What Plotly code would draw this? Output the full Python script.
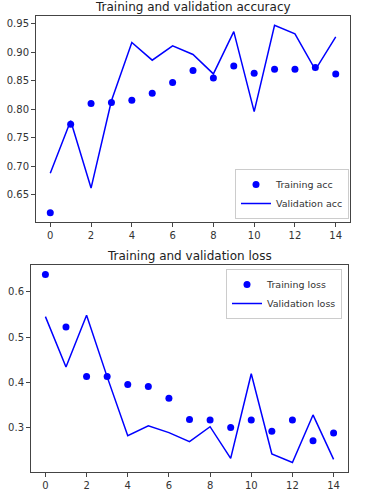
import plotly.graph_objects as go

epochs = list(range(15))
train_acc = [0.619, 0.774, 0.810, 0.812, 0.816, 0.828, 0.847, 0.868, 0.855, 0.876, 0.863, 0.870, 0.870, 0.873, 0.862]
val_acc = [0.688, 0.780, 0.662, 0.815, 0.917, 0.886, 0.911, 0.896, 0.862, 0.936, 0.796, 0.947, 0.932, 0.869, 0.927]
train_loss = [0.638, 0.522, 0.413, 0.413, 0.395, 0.391, 0.365, 0.318, 0.317, 0.300, 0.317, 0.292, 0.317, 0.271, 0.288]
val_loss = [0.545, 0.434, 0.548, 0.412, 0.282, 0.304, 0.289, 0.269, 0.302, 0.232, 0.419, 0.242, 0.223, 0.328, 0.230]

acc_ticks = [0.65, 0.70, 0.75, 0.80, 0.85, 0.90, 0.95]
loss_ticks = [0.3, 0.4, 0.5, 0.6]
x_ticks = [0, 2, 4, 6, 8, 10, 12, 14]

W, H = 379, 493
BLUE = "#0000ff"
font = dict(family="DejaVu Sans", size=10, color="#333333")

fig = go.Figure()
fig.add_trace(go.Scatter(x=epochs, y=train_acc, mode="markers", name="Training acc",
                         marker=dict(color=BLUE, size=7), xaxis="x", yaxis="y", legend="legend"))
fig.add_trace(go.Scatter(x=epochs, y=val_acc, mode="lines", name="Validation acc",
                         line=dict(color=BLUE, width=1.5), xaxis="x", yaxis="y", legend="legend"))
fig.add_trace(go.Scatter(x=epochs, y=train_loss, mode="markers", name="Training loss",
                         marker=dict(color=BLUE, size=7), xaxis="x2", yaxis="y2", legend="legend2"))
fig.add_trace(go.Scatter(x=epochs, y=val_loss, mode="lines", name="Validation loss",
                         line=dict(color=BLUE, width=1.5), xaxis="x2", yaxis="y2", legend="legend2"))

axis_common = dict(showline=True, mirror=True, linecolor="#444444", linewidth=1, ticks="outside",
                   ticklen=4, tickcolor="#444444", showgrid=False, zeroline=False, tickfont=font)

def py(p):
    return 1 - p / H

def px(p):
    return p / W

legend_style = dict(bgcolor="rgba(255,255,255,0.8)", bordercolor="#cccccc", borderwidth=1,
                    font=dict(family="DejaVu Sans", size=9.5, color="#333333"), tracegroupgap=0,
                    itemwidth=30)

fig.update_layout(
    width=W, height=H, margin=dict(l=0, r=0, t=0, b=0),
    paper_bgcolor="white", plot_bgcolor="white", font=font,
    xaxis=dict(domain=[px(36), px(350)], range=[-0.7, 14.7], tickvals=x_ticks, anchor="y", **axis_common),
    yaxis=dict(domain=[py(222), py(16)], range=[0.6026, 0.9634], tickvals=acc_ticks,
               tickformat=".2f", anchor="x", **axis_common),
    xaxis2=dict(domain=[px(31), px(348)], range=[-0.7, 14.7], tickvals=x_ticks, anchor="y2", **axis_common),
    yaxis2=dict(domain=[py(472), py(265)], range=[0.202, 0.659], tickvals=loss_ticks,
                tickformat=".1f", anchor="x2", **axis_common),
    legend=dict(x=px(349), y=py(219), xanchor="right", yanchor="bottom", **legend_style),
    legend2=dict(x=px(342), y=py(269), xanchor="right", yanchor="top", **legend_style),
    annotations=[
        dict(text="Training and validation accuracy", x=px(193), y=py(7), xref="paper", yref="paper",
             xanchor="center", yanchor="middle", showarrow=False,
             font=dict(family="DejaVu Sans", size=12, color="#222222")),
        dict(text="Training and validation loss", x=px(189), y=py(256), xref="paper", yref="paper",
             xanchor="center", yanchor="middle", showarrow=False,
             font=dict(family="DejaVu Sans", size=12, color="#222222")),
    ],
    showlegend=True,
)

fig.write_html("out.html", config={"displayModeBar": False},
               post_script="document.body.style.margin='0';document.body.style.overflow='hidden';")
